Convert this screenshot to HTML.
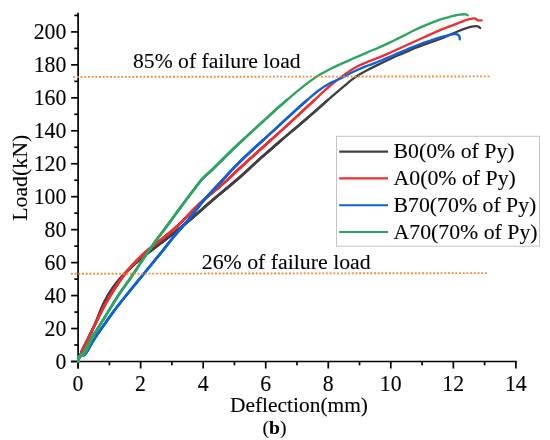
<!DOCTYPE html>
<html><head><meta charset="utf-8"><title>Load-deflection curves</title><style>
html,body{margin:0;padding:0;background:#fff;}
svg{display:block;}
text{font-family:"Liberation Serif","Times New Roman",serif;fill:#000;stroke:#000;stroke-width:0.1px;}
</style></head><body>
<svg width="550" height="440" viewBox="0 0 550 440">
<rect width="550" height="440" fill="#fff"/>
<line x1="78.10" y1="12.8" x2="78.10" y2="368.5" stroke="#000" stroke-width="1.7"/>
<line x1="71" y1="361.5" x2="516.73" y2="361.5" stroke="#000" stroke-width="1.7"/>
<line x1="71.10" y1="361.50" x2="78.10" y2="361.50" stroke="#000" stroke-width="1.7"/>
<text transform="translate(66.4 368.50) scale(1 1.09)" font-size="21.8" text-anchor="end">0</text>
<line x1="74.30" y1="345.02" x2="78.10" y2="345.02" stroke="#000" stroke-width="1.7"/>
<line x1="71.10" y1="328.54" x2="78.10" y2="328.54" stroke="#000" stroke-width="1.7"/>
<text transform="translate(66.4 335.54) scale(1 1.09)" font-size="21.8" text-anchor="end">20</text>
<line x1="74.30" y1="312.06" x2="78.10" y2="312.06" stroke="#000" stroke-width="1.7"/>
<line x1="71.10" y1="295.58" x2="78.10" y2="295.58" stroke="#000" stroke-width="1.7"/>
<text transform="translate(66.4 302.58) scale(1 1.09)" font-size="21.8" text-anchor="end">40</text>
<line x1="74.30" y1="279.10" x2="78.10" y2="279.10" stroke="#000" stroke-width="1.7"/>
<line x1="71.10" y1="262.62" x2="78.10" y2="262.62" stroke="#000" stroke-width="1.7"/>
<text transform="translate(66.4 269.62) scale(1 1.09)" font-size="21.8" text-anchor="end">60</text>
<line x1="74.30" y1="246.14" x2="78.10" y2="246.14" stroke="#000" stroke-width="1.7"/>
<line x1="71.10" y1="229.66" x2="78.10" y2="229.66" stroke="#000" stroke-width="1.7"/>
<text transform="translate(66.4 236.66) scale(1 1.09)" font-size="21.8" text-anchor="end">80</text>
<line x1="74.30" y1="213.18" x2="78.10" y2="213.18" stroke="#000" stroke-width="1.7"/>
<line x1="71.10" y1="196.70" x2="78.10" y2="196.70" stroke="#000" stroke-width="1.7"/>
<text transform="translate(66.4 203.70) scale(1 1.09)" font-size="21.8" text-anchor="end">100</text>
<line x1="74.30" y1="180.22" x2="78.10" y2="180.22" stroke="#000" stroke-width="1.7"/>
<line x1="71.10" y1="163.74" x2="78.10" y2="163.74" stroke="#000" stroke-width="1.7"/>
<text transform="translate(66.4 170.74) scale(1 1.09)" font-size="21.8" text-anchor="end">120</text>
<line x1="74.30" y1="147.26" x2="78.10" y2="147.26" stroke="#000" stroke-width="1.7"/>
<line x1="71.10" y1="130.78" x2="78.10" y2="130.78" stroke="#000" stroke-width="1.7"/>
<text transform="translate(66.4 137.78) scale(1 1.09)" font-size="21.8" text-anchor="end">140</text>
<line x1="74.30" y1="114.30" x2="78.10" y2="114.30" stroke="#000" stroke-width="1.7"/>
<line x1="71.10" y1="97.82" x2="78.10" y2="97.82" stroke="#000" stroke-width="1.7"/>
<text transform="translate(66.4 104.82) scale(1 1.09)" font-size="21.8" text-anchor="end">160</text>
<line x1="74.30" y1="81.34" x2="78.10" y2="81.34" stroke="#000" stroke-width="1.7"/>
<line x1="71.10" y1="64.86" x2="78.10" y2="64.86" stroke="#000" stroke-width="1.7"/>
<text transform="translate(66.4 71.86) scale(1 1.09)" font-size="21.8" text-anchor="end">180</text>
<line x1="74.30" y1="48.38" x2="78.10" y2="48.38" stroke="#000" stroke-width="1.7"/>
<line x1="71.10" y1="31.90" x2="78.10" y2="31.90" stroke="#000" stroke-width="1.7"/>
<text transform="translate(66.4 38.90) scale(1 1.09)" font-size="21.8" text-anchor="end">200</text>
<line x1="74.30" y1="15.42" x2="78.10" y2="15.42" stroke="#000" stroke-width="1.7"/>
<line x1="78.10" y1="361.5" x2="78.10" y2="368.50" stroke="#000" stroke-width="1.7"/>
<text transform="translate(78.00 390.6) scale(1 1.09)" font-size="21.8" text-anchor="middle">0</text>
<line x1="109.37" y1="361.5" x2="109.37" y2="365.30" stroke="#000" stroke-width="1.7"/>
<line x1="140.64" y1="361.5" x2="140.64" y2="368.50" stroke="#000" stroke-width="1.7"/>
<text transform="translate(140.54 390.6) scale(1 1.09)" font-size="21.8" text-anchor="middle">2</text>
<line x1="171.91" y1="361.5" x2="171.91" y2="365.30" stroke="#000" stroke-width="1.7"/>
<line x1="203.18" y1="361.5" x2="203.18" y2="368.50" stroke="#000" stroke-width="1.7"/>
<text transform="translate(203.08 390.6) scale(1 1.09)" font-size="21.8" text-anchor="middle">4</text>
<line x1="234.45" y1="361.5" x2="234.45" y2="365.30" stroke="#000" stroke-width="1.7"/>
<line x1="265.72" y1="361.5" x2="265.72" y2="368.50" stroke="#000" stroke-width="1.7"/>
<text transform="translate(265.62 390.6) scale(1 1.09)" font-size="21.8" text-anchor="middle">6</text>
<line x1="296.99" y1="361.5" x2="296.99" y2="365.30" stroke="#000" stroke-width="1.7"/>
<line x1="328.26" y1="361.5" x2="328.26" y2="368.50" stroke="#000" stroke-width="1.7"/>
<text transform="translate(328.16 390.6) scale(1 1.09)" font-size="21.8" text-anchor="middle">8</text>
<line x1="359.53" y1="361.5" x2="359.53" y2="365.30" stroke="#000" stroke-width="1.7"/>
<line x1="390.80" y1="361.5" x2="390.80" y2="368.50" stroke="#000" stroke-width="1.7"/>
<text transform="translate(390.70 390.6) scale(1 1.09)" font-size="21.8" text-anchor="middle">10</text>
<line x1="422.07" y1="361.5" x2="422.07" y2="365.30" stroke="#000" stroke-width="1.7"/>
<line x1="453.34" y1="361.5" x2="453.34" y2="368.50" stroke="#000" stroke-width="1.7"/>
<text transform="translate(453.24 390.6) scale(1 1.09)" font-size="21.8" text-anchor="middle">12</text>
<line x1="484.61" y1="361.5" x2="484.61" y2="365.30" stroke="#000" stroke-width="1.7"/>
<line x1="515.88" y1="361.5" x2="515.88" y2="368.50" stroke="#000" stroke-width="1.7"/>
<text transform="translate(515.78 390.6) scale(1 1.09)" font-size="21.8" text-anchor="middle">14</text>
<path d="M78.40,361.50 C78.52,360.83 78.70,358.75 79.10,357.50 C79.50,356.25 80.27,355.25 80.80,354.00 C81.33,352.75 81.20,352.33 82.30,350.00 C83.40,347.67 85.73,343.33 87.40,340.00 C89.07,336.67 90.73,333.33 92.30,330.00 C93.87,326.67 95.42,323.33 96.84,320.00 C98.26,316.67 99.38,313.33 100.82,310.00 C102.26,306.67 103.70,303.33 105.46,300.00 C107.22,296.67 109.15,293.33 111.38,290.00 C113.61,286.67 116.06,283.33 118.86,280.00 C121.66,276.67 124.82,273.33 128.20,270.00 C131.58,266.67 135.19,263.33 139.12,260.00 C143.05,256.67 147.50,253.33 151.80,250.00 C156.10,246.67 160.61,243.33 164.92,240.00 C169.23,236.67 173.53,233.33 177.68,230.00 C181.83,226.67 185.90,223.33 189.84,220.00 C193.78,216.67 197.52,213.33 201.34,210.00 C205.16,206.67 208.84,203.33 212.74,200.00 C216.64,196.67 220.76,193.33 224.74,190.00 C228.72,186.67 232.79,183.33 236.64,180.00 C240.49,176.67 244.16,173.33 247.82,170.00 C251.48,166.67 254.92,163.33 258.62,160.00 C262.32,156.67 266.23,153.33 270.04,150.00 C273.85,146.67 277.62,143.33 281.50,140.00 C285.38,136.67 289.39,133.33 293.32,130.00 C297.25,126.67 301.21,123.33 305.08,120.00 C308.95,116.67 312.78,113.34 316.54,110.03 C320.30,106.71 324.08,103.26 327.64,100.14 C331.20,97.02 335.01,93.77 337.90,91.30 C340.79,88.83 342.78,87.19 345.00,85.34 C347.22,83.48 348.98,81.89 351.24,80.18 C353.50,78.47 355.78,76.83 358.58,75.08 C361.38,73.34 364.57,71.54 368.02,69.72 C371.47,67.90 375.77,65.85 379.28,64.14 C382.79,62.42 385.95,60.92 389.10,59.44 C392.25,57.96 395.21,56.61 398.20,55.28 C401.19,53.95 404.17,52.68 407.02,51.46 C409.87,50.24 412.43,49.08 415.28,47.94 C418.13,46.80 421.11,45.71 424.10,44.62 C427.09,43.53 430.31,42.43 433.20,41.40 C436.09,40.37 439.12,39.31 441.42,38.42 C443.72,37.53 445.24,36.84 447.02,36.06 C448.80,35.28 450.17,34.56 452.12,33.72 C454.07,32.88 456.21,31.97 458.74,31.00 C461.27,30.03 465.09,28.63 467.30,27.90 C469.51,27.17 470.63,26.90 472.00,26.60 C473.37,26.30 474.58,26.15 475.50,26.10 C476.42,26.05 476.92,26.17 477.50,26.30 C478.08,26.43 478.55,26.62 479.00,26.90 C479.45,27.18 480.00,27.82 480.20,28.00" fill="none" stroke="#404040" stroke-width="2.35" stroke-linejoin="round" stroke-linecap="round"/>
<path d="M78.40,361.50 C78.52,360.83 78.70,358.75 79.10,357.50 C79.50,356.25 80.27,355.25 80.80,354.00 C81.33,352.75 81.20,352.33 82.30,350.00 C83.40,347.67 85.73,343.33 87.40,340.00 C89.07,336.67 90.73,333.33 92.30,330.00 C93.87,326.67 95.42,323.33 96.84,320.00 C98.26,316.67 99.38,313.33 100.82,310.00 C102.26,306.67 103.70,303.33 105.46,300.00 C107.22,296.67 109.15,293.33 111.38,290.00 C113.61,286.67 116.06,283.33 118.86,280.00 C121.66,276.67 124.82,273.33 128.20,270.00 C131.58,266.67 135.19,263.33 139.12,260.00 C143.05,256.67 147.50,253.33 151.80,250.00 C156.10,246.67 160.61,243.33 164.92,240.00 C169.23,236.67 173.53,233.33 177.68,230.00 C181.83,226.67 185.90,223.33 189.84,220.00 C193.78,216.67 197.52,213.33 201.34,210.00 C205.16,206.67 208.84,203.33 212.74,200.00 C216.64,196.67 220.76,193.33 224.74,190.00 C228.72,186.67 232.79,183.33 236.64,180.00 C240.49,176.67 244.16,173.33 247.82,170.00 C251.48,166.67 254.92,163.33 258.62,160.00 C262.32,156.67 266.23,153.33 270.04,150.00 C273.85,146.67 279.59,141.67 281.50,140.00" fill="none" stroke="#404040" stroke-width="2.6" stroke-linejoin="round" stroke-linecap="round"/>
<path d="M78.40,361.50 C78.52,360.83 78.70,358.75 79.10,357.50 C79.50,356.25 80.27,355.25 80.80,354.00 C81.33,352.75 81.20,352.33 82.30,350.00 C83.40,347.67 85.73,343.33 87.40,340.00 C89.07,336.67 90.73,333.33 92.30,330.00 C93.87,326.67 95.42,323.33 96.84,320.00 C98.26,316.67 99.38,313.33 100.82,310.00 C102.26,306.67 103.70,303.33 105.46,300.00 C107.22,296.67 109.15,293.33 111.38,290.00 C113.61,286.67 116.06,283.33 118.86,280.00 C121.66,276.67 124.82,273.33 128.20,270.00 C131.58,266.67 135.19,263.33 139.12,260.00 C143.05,256.67 147.50,253.33 151.80,250.00 C156.10,246.67 160.61,243.33 164.92,240.00 C169.23,236.67 173.53,233.33 177.68,230.00 C181.83,226.67 185.90,223.33 189.84,220.00 C193.78,216.67 197.52,213.33 201.34,210.00 C205.16,206.67 208.84,203.33 212.74,200.00 C216.64,196.67 220.76,193.33 224.74,190.00 C228.72,186.67 232.79,183.33 236.64,180.00 C240.49,176.67 244.16,173.33 247.82,170.00 C251.48,166.67 254.92,163.33 258.62,160.00 C262.32,156.67 266.23,153.33 270.04,150.00 C273.85,146.67 277.62,143.33 281.50,140.00 C285.38,136.67 289.39,133.33 293.32,130.00 C297.25,126.67 301.21,123.33 305.08,120.00 C308.95,116.67 312.78,113.34 316.54,110.03 C320.30,106.71 325.79,101.79 327.64,100.14" fill="none" stroke="#404040" stroke-width="2.48" stroke-linejoin="round" stroke-linecap="round"/>
<path d="M78.40,361.50 C78.53,360.83 78.77,358.75 79.20,357.50 C79.63,356.25 80.43,355.25 81.00,354.00 C81.57,352.75 81.50,352.33 82.60,350.00 C83.70,347.67 85.97,343.33 87.60,340.00 C89.23,336.67 90.79,333.33 92.40,330.00 C94.01,326.67 95.64,323.33 97.28,320.00 C98.92,316.67 100.50,313.33 102.24,310.00 C103.98,306.67 105.81,303.33 107.74,300.00 C109.67,296.67 111.71,293.33 113.84,290.00 C115.97,286.67 118.10,283.33 120.50,280.00 C122.90,276.67 125.48,273.33 128.26,270.00 C131.04,266.67 133.91,263.33 137.20,260.00 C140.49,256.67 144.11,253.33 148.02,250.00 C151.93,246.67 156.49,243.33 160.64,240.00 C164.79,236.67 169.11,233.33 172.94,230.00 C176.77,226.67 180.26,223.33 183.62,220.00 C186.98,216.67 189.76,213.33 193.08,210.00 C196.40,206.67 199.79,203.33 203.56,200.00 C207.33,196.67 211.77,193.33 215.72,190.00 C219.67,186.67 223.60,183.33 227.28,180.00 C230.96,176.67 234.25,173.33 237.82,170.00 C241.39,166.67 245.04,163.33 248.70,160.00 C252.36,156.67 256.10,153.33 259.80,150.00 C263.50,146.67 267.20,143.33 270.90,140.00 C274.60,136.67 278.32,133.33 282.00,130.00 C285.68,126.67 289.36,123.33 292.98,120.00 C296.60,116.67 300.13,113.33 303.72,110.00 C307.31,106.67 311.07,103.23 314.54,100.01 C318.01,96.79 321.50,93.42 324.54,90.67 C327.58,87.93 330.15,85.70 332.80,83.53 C335.45,81.36 337.70,79.70 340.42,77.67 C343.14,75.65 346.14,73.31 349.10,71.37 C352.06,69.43 355.05,67.66 358.20,66.05 C361.35,64.44 364.51,63.16 368.02,61.70 C371.53,60.24 375.77,58.74 379.28,57.31 C382.79,55.87 385.95,54.48 389.10,53.10 C392.25,51.72 395.21,50.35 398.20,49.00 C401.19,47.65 404.17,46.30 407.02,45.00 C409.87,43.70 412.43,42.50 415.28,41.20 C418.13,39.90 421.11,38.55 424.10,37.20 C427.09,35.85 430.24,34.41 433.20,33.10 C436.16,31.79 439.22,30.43 441.84,29.36 C444.46,28.29 446.72,27.53 448.92,26.70 C451.12,25.87 453.00,25.16 455.02,24.38 C457.04,23.60 459.01,22.80 461.06,22.02 C463.11,21.24 465.48,20.27 467.30,19.70 C469.12,19.13 470.75,18.80 472.00,18.60 C473.25,18.40 474.07,18.40 474.80,18.50 C475.53,18.60 475.93,18.90 476.40,19.20 C476.87,19.50 476.73,20.12 477.60,20.30 C478.47,20.48 480.93,20.30 481.60,20.30" fill="none" stroke="#ef2e30" stroke-width="2.35" stroke-linejoin="round" stroke-linecap="round"/>
<path d="M78.40,361.50 C78.53,360.83 78.77,358.75 79.20,357.50 C79.63,356.25 80.43,355.25 81.00,354.00 C81.57,352.75 81.50,352.33 82.60,350.00 C83.70,347.67 85.97,343.33 87.60,340.00 C89.23,336.67 90.79,333.33 92.40,330.00 C94.01,326.67 95.64,323.33 97.28,320.00 C98.92,316.67 100.50,313.33 102.24,310.00 C103.98,306.67 105.81,303.33 107.74,300.00 C109.67,296.67 111.71,293.33 113.84,290.00 C115.97,286.67 118.10,283.33 120.50,280.00 C122.90,276.67 125.48,273.33 128.26,270.00 C131.04,266.67 133.91,263.33 137.20,260.00 C140.49,256.67 144.11,253.33 148.02,250.00 C151.93,246.67 156.49,243.33 160.64,240.00 C164.79,236.67 169.11,233.33 172.94,230.00 C176.77,226.67 180.26,223.33 183.62,220.00 C186.98,216.67 189.76,213.33 193.08,210.00 C196.40,206.67 199.79,203.33 203.56,200.00 C207.33,196.67 211.77,193.33 215.72,190.00 C219.67,186.67 223.60,183.33 227.28,180.00 C230.96,176.67 234.25,173.33 237.82,170.00 C241.39,166.67 245.04,163.33 248.70,160.00 C252.36,156.67 256.10,153.33 259.80,150.00 C263.50,146.67 269.05,141.67 270.90,140.00" fill="none" stroke="#ef2e30" stroke-width="2.6" stroke-linejoin="round" stroke-linecap="round"/>
<path d="M78.40,361.50 C78.53,360.83 78.77,358.75 79.20,357.50 C79.63,356.25 80.43,355.25 81.00,354.00 C81.57,352.75 81.50,352.33 82.60,350.00 C83.70,347.67 85.97,343.33 87.60,340.00 C89.23,336.67 90.79,333.33 92.40,330.00 C94.01,326.67 95.64,323.33 97.28,320.00 C98.92,316.67 100.50,313.33 102.24,310.00 C103.98,306.67 105.81,303.33 107.74,300.00 C109.67,296.67 111.71,293.33 113.84,290.00 C115.97,286.67 118.10,283.33 120.50,280.00 C122.90,276.67 125.48,273.33 128.26,270.00 C131.04,266.67 133.91,263.33 137.20,260.00 C140.49,256.67 144.11,253.33 148.02,250.00 C151.93,246.67 156.49,243.33 160.64,240.00 C164.79,236.67 169.11,233.33 172.94,230.00 C176.77,226.67 180.26,223.33 183.62,220.00 C186.98,216.67 189.76,213.33 193.08,210.00 C196.40,206.67 199.79,203.33 203.56,200.00 C207.33,196.67 211.77,193.33 215.72,190.00 C219.67,186.67 223.60,183.33 227.28,180.00 C230.96,176.67 234.25,173.33 237.82,170.00 C241.39,166.67 245.04,163.33 248.70,160.00 C252.36,156.67 256.10,153.33 259.80,150.00 C263.50,146.67 267.20,143.33 270.90,140.00 C274.60,136.67 278.32,133.33 282.00,130.00 C285.68,126.67 289.36,123.33 292.98,120.00 C296.60,116.67 300.13,113.33 303.72,110.00 C307.31,106.67 312.74,101.68 314.54,100.01" fill="none" stroke="#ef2e30" stroke-width="2.48" stroke-linejoin="round" stroke-linecap="round"/>
<path d="M78.40,361.50 C78.43,360.92 78.45,358.87 78.60,358.00 C78.75,357.13 78.73,356.68 79.30,356.30 C79.87,355.92 81.08,355.98 82.00,355.70 C82.92,355.42 83.80,355.55 84.80,354.60 C85.80,353.65 86.52,352.43 88.00,350.00 C89.48,347.57 91.59,343.33 93.66,340.00 C95.73,336.67 98.10,333.33 100.40,330.00 C102.70,326.67 105.10,323.33 107.48,320.00 C109.86,316.67 112.20,313.33 114.70,310.00 C117.20,306.67 119.86,303.33 122.50,300.00 C125.14,296.67 127.84,293.33 130.54,290.00 C133.24,286.67 135.99,283.33 138.72,280.00 C141.45,276.67 144.21,273.33 146.94,270.00 C149.67,266.67 152.38,263.33 155.10,260.00 C157.82,256.67 160.59,253.33 163.26,250.00 C165.93,246.67 168.38,243.33 171.10,240.00 C173.82,236.67 176.76,233.33 179.60,230.00 C182.44,226.67 185.42,223.33 188.16,220.00 C190.90,216.67 193.38,213.33 196.04,210.00 C198.70,206.67 201.26,203.33 204.12,200.00 C206.98,196.67 210.14,193.33 213.22,190.00 C216.30,186.67 219.48,183.33 222.58,180.00 C225.68,176.67 228.63,173.33 231.82,170.00 C235.01,166.67 238.31,163.33 241.72,160.00 C245.13,156.67 248.70,153.33 252.30,150.00 C255.90,146.67 259.64,143.33 263.30,140.00 C266.96,136.67 270.66,133.33 274.28,130.00 C277.90,126.67 281.40,123.33 285.02,120.00 C288.64,116.67 292.30,113.33 296.00,110.00 C299.70,106.67 303.50,103.21 307.22,100.00 C310.94,96.79 314.74,93.40 318.30,90.74 C321.86,88.08 325.04,86.00 328.56,84.04 C332.08,82.07 336.00,80.62 339.42,78.94 C342.84,77.26 345.97,75.52 349.10,73.95 C352.23,72.37 355.05,70.89 358.20,69.49 C361.35,68.08 364.51,66.89 368.02,65.52 C371.53,64.15 375.77,62.64 379.28,61.25 C382.79,59.85 385.95,58.50 389.10,57.16 C392.25,55.82 395.21,54.46 398.20,53.18 C401.19,51.90 404.17,50.66 407.02,49.46 C409.87,48.26 412.43,47.14 415.28,46.00 C418.13,44.86 421.11,43.72 424.10,42.64 C427.09,41.56 430.24,40.45 433.20,39.50 C436.16,38.55 439.19,37.65 441.84,36.92 C444.49,36.19 446.99,35.55 449.10,35.10 C451.21,34.65 453.13,34.32 454.50,34.20 C455.87,34.08 456.52,34.10 457.30,34.40 C458.08,34.70 458.80,35.43 459.20,36.00 C459.60,36.57 459.60,37.23 459.70,37.80 C459.80,38.37 459.78,39.13 459.80,39.40" fill="none" stroke="#0c62da" stroke-width="2.35" stroke-linejoin="round" stroke-linecap="round"/>
<path d="M78.40,361.50 C78.43,360.92 78.45,358.87 78.60,358.00 C78.75,357.13 78.73,356.68 79.30,356.30 C79.87,355.92 81.08,355.98 82.00,355.70 C82.92,355.42 83.80,355.55 84.80,354.60 C85.80,353.65 86.52,352.43 88.00,350.00 C89.48,347.57 91.59,343.33 93.66,340.00 C95.73,336.67 98.10,333.33 100.40,330.00 C102.70,326.67 105.10,323.33 107.48,320.00 C109.86,316.67 112.20,313.33 114.70,310.00 C117.20,306.67 119.86,303.33 122.50,300.00 C125.14,296.67 127.84,293.33 130.54,290.00 C133.24,286.67 135.99,283.33 138.72,280.00 C141.45,276.67 144.21,273.33 146.94,270.00 C149.67,266.67 152.38,263.33 155.10,260.00 C157.82,256.67 160.59,253.33 163.26,250.00 C165.93,246.67 168.38,243.33 171.10,240.00 C173.82,236.67 176.76,233.33 179.60,230.00 C182.44,226.67 185.42,223.33 188.16,220.00 C190.90,216.67 193.38,213.33 196.04,210.00 C198.70,206.67 201.26,203.33 204.12,200.00 C206.98,196.67 210.14,193.33 213.22,190.00 C216.30,186.67 219.48,183.33 222.58,180.00 C225.68,176.67 228.63,173.33 231.82,170.00 C235.01,166.67 238.31,163.33 241.72,160.00 C245.13,156.67 248.70,153.33 252.30,150.00 C255.90,146.67 261.47,141.67 263.30,140.00" fill="none" stroke="#0c62da" stroke-width="2.6" stroke-linejoin="round" stroke-linecap="round"/>
<path d="M78.40,361.50 C78.43,360.92 78.45,358.87 78.60,358.00 C78.75,357.13 78.73,356.68 79.30,356.30 C79.87,355.92 81.08,355.98 82.00,355.70 C82.92,355.42 83.80,355.55 84.80,354.60 C85.80,353.65 86.52,352.43 88.00,350.00 C89.48,347.57 91.59,343.33 93.66,340.00 C95.73,336.67 98.10,333.33 100.40,330.00 C102.70,326.67 105.10,323.33 107.48,320.00 C109.86,316.67 112.20,313.33 114.70,310.00 C117.20,306.67 119.86,303.33 122.50,300.00 C125.14,296.67 127.84,293.33 130.54,290.00 C133.24,286.67 135.99,283.33 138.72,280.00 C141.45,276.67 144.21,273.33 146.94,270.00 C149.67,266.67 152.38,263.33 155.10,260.00 C157.82,256.67 160.59,253.33 163.26,250.00 C165.93,246.67 168.38,243.33 171.10,240.00 C173.82,236.67 176.76,233.33 179.60,230.00 C182.44,226.67 185.42,223.33 188.16,220.00 C190.90,216.67 193.38,213.33 196.04,210.00 C198.70,206.67 201.26,203.33 204.12,200.00 C206.98,196.67 210.14,193.33 213.22,190.00 C216.30,186.67 219.48,183.33 222.58,180.00 C225.68,176.67 228.63,173.33 231.82,170.00 C235.01,166.67 238.31,163.33 241.72,160.00 C245.13,156.67 248.70,153.33 252.30,150.00 C255.90,146.67 259.64,143.33 263.30,140.00 C266.96,136.67 270.66,133.33 274.28,130.00 C277.90,126.67 281.40,123.33 285.02,120.00 C288.64,116.67 292.30,113.33 296.00,110.00 C299.70,106.67 305.35,101.67 307.22,100.00" fill="none" stroke="#0c62da" stroke-width="2.48" stroke-linejoin="round" stroke-linecap="round"/>
<path d="M78.40,361.50 C78.43,360.92 78.45,358.87 78.60,358.00 C78.75,357.13 78.82,356.70 79.30,356.30 C79.78,355.90 80.78,355.82 81.50,355.60 C82.22,355.38 83.03,355.43 83.60,355.00 C84.17,354.57 84.35,354.07 84.90,353.00 C85.45,351.93 85.94,350.77 86.92,348.60 C87.90,346.43 89.15,343.10 90.80,340.00 C92.45,336.90 94.75,333.33 96.80,330.00 C98.85,326.67 101.01,323.33 103.08,320.00 C105.15,316.67 107.15,313.33 109.20,310.00 C111.25,306.67 113.25,303.33 115.38,300.00 C117.51,296.67 119.70,293.33 122.00,290.00 C124.30,286.67 126.83,283.33 129.16,280.00 C131.49,276.67 133.75,273.33 135.98,270.00 C138.21,266.67 140.28,263.33 142.52,260.00 C144.76,256.67 147.11,253.33 149.42,250.00 C151.73,246.67 153.93,243.33 156.36,240.00 C158.79,236.67 161.48,233.33 163.98,230.00 C166.48,226.67 168.90,223.33 171.34,220.00 C173.78,216.67 176.17,213.33 178.62,210.00 C181.07,206.67 183.50,203.37 186.04,200.00 C188.58,196.63 191.11,193.29 193.84,189.76 C196.57,186.23 199.34,182.13 202.40,178.80 C205.46,175.47 208.93,172.89 212.20,169.76 C215.47,166.63 218.71,163.29 222.04,160.00 C225.37,156.71 228.70,153.33 232.16,150.00 C235.62,146.67 239.22,143.33 242.80,140.00 C246.38,136.67 250.03,133.33 253.66,130.00 C257.29,126.67 260.96,123.33 264.60,120.00 C268.24,116.67 271.78,113.33 275.50,110.00 C279.22,106.67 283.11,103.27 286.92,100.00 C290.73,96.73 294.65,93.38 298.36,90.36 C302.07,87.34 305.59,84.53 309.18,81.90 C312.77,79.27 316.40,76.75 319.92,74.60 C323.44,72.46 326.97,70.72 330.30,69.02 C333.63,67.32 336.79,65.84 339.92,64.39 C343.05,62.94 346.05,61.66 349.10,60.32 C352.15,58.98 355.05,57.71 358.20,56.35 C361.35,54.98 364.51,53.61 368.02,52.12 C371.53,50.63 375.77,48.92 379.28,47.39 C382.79,45.86 385.95,44.42 389.10,42.92 C392.25,41.42 395.21,39.91 398.20,38.42 C401.19,36.93 404.17,35.42 407.02,33.98 C409.87,32.54 412.43,31.16 415.28,29.80 C418.13,28.44 421.11,27.07 424.10,25.80 C427.09,24.53 430.17,23.33 433.20,22.18 C436.23,21.03 439.65,19.75 442.30,18.90 C444.95,18.05 446.98,17.67 449.10,17.10 C451.22,16.53 453.18,15.92 455.00,15.50 C456.82,15.08 458.25,14.80 460.00,14.60 C461.75,14.40 464.22,14.18 465.50,14.30 C466.78,14.42 467.33,15.13 467.70,15.30" fill="none" stroke="#2aa660" stroke-width="2.35" stroke-linejoin="round" stroke-linecap="round"/>
<path d="M78.40,361.50 C78.43,360.92 78.45,358.87 78.60,358.00 C78.75,357.13 78.82,356.70 79.30,356.30 C79.78,355.90 80.78,355.82 81.50,355.60 C82.22,355.38 83.03,355.43 83.60,355.00 C84.17,354.57 84.35,354.07 84.90,353.00 C85.45,351.93 85.94,350.77 86.92,348.60 C87.90,346.43 89.15,343.10 90.80,340.00 C92.45,336.90 94.75,333.33 96.80,330.00 C98.85,326.67 101.01,323.33 103.08,320.00 C105.15,316.67 107.15,313.33 109.20,310.00 C111.25,306.67 113.25,303.33 115.38,300.00 C117.51,296.67 119.70,293.33 122.00,290.00 C124.30,286.67 126.83,283.33 129.16,280.00 C131.49,276.67 133.75,273.33 135.98,270.00 C138.21,266.67 140.28,263.33 142.52,260.00 C144.76,256.67 147.11,253.33 149.42,250.00 C151.73,246.67 153.93,243.33 156.36,240.00 C158.79,236.67 161.48,233.33 163.98,230.00 C166.48,226.67 168.90,223.33 171.34,220.00 C173.78,216.67 176.17,213.33 178.62,210.00 C181.07,206.67 183.50,203.37 186.04,200.00 C188.58,196.63 191.11,193.29 193.84,189.76 C196.57,186.23 199.34,182.13 202.40,178.80 C205.46,175.47 208.93,172.89 212.20,169.76 C215.47,166.63 218.71,163.29 222.04,160.00 C225.37,156.71 228.70,153.33 232.16,150.00 C235.62,146.67 241.03,141.67 242.80,140.00" fill="none" stroke="#2aa660" stroke-width="2.6" stroke-linejoin="round" stroke-linecap="round"/>
<path d="M78.40,361.50 C78.43,360.92 78.45,358.87 78.60,358.00 C78.75,357.13 78.82,356.70 79.30,356.30 C79.78,355.90 80.78,355.82 81.50,355.60 C82.22,355.38 83.03,355.43 83.60,355.00 C84.17,354.57 84.35,354.07 84.90,353.00 C85.45,351.93 85.94,350.77 86.92,348.60 C87.90,346.43 89.15,343.10 90.80,340.00 C92.45,336.90 94.75,333.33 96.80,330.00 C98.85,326.67 101.01,323.33 103.08,320.00 C105.15,316.67 107.15,313.33 109.20,310.00 C111.25,306.67 113.25,303.33 115.38,300.00 C117.51,296.67 119.70,293.33 122.00,290.00 C124.30,286.67 126.83,283.33 129.16,280.00 C131.49,276.67 133.75,273.33 135.98,270.00 C138.21,266.67 140.28,263.33 142.52,260.00 C144.76,256.67 147.11,253.33 149.42,250.00 C151.73,246.67 153.93,243.33 156.36,240.00 C158.79,236.67 161.48,233.33 163.98,230.00 C166.48,226.67 168.90,223.33 171.34,220.00 C173.78,216.67 176.17,213.33 178.62,210.00 C181.07,206.67 183.50,203.37 186.04,200.00 C188.58,196.63 191.11,193.29 193.84,189.76 C196.57,186.23 199.34,182.13 202.40,178.80 C205.46,175.47 208.93,172.89 212.20,169.76 C215.47,166.63 218.71,163.29 222.04,160.00 C225.37,156.71 228.70,153.33 232.16,150.00 C235.62,146.67 239.22,143.33 242.80,140.00 C246.38,136.67 250.03,133.33 253.66,130.00 C257.29,126.67 260.96,123.33 264.60,120.00 C268.24,116.67 271.78,113.33 275.50,110.00 C279.22,106.67 285.02,101.67 286.92,100.00" fill="none" stroke="#2aa660" stroke-width="2.48" stroke-linejoin="round" stroke-linecap="round"/>
<path d="M78.8,357.2 L81,355.4 L83.6,353.2 L86.4,349 L89.1,343.6 L91.8,338.4 L94.5,333.5" fill="none" stroke="#2aa660" stroke-width="3.6" stroke-linejoin="round" stroke-linecap="round"/>
<line x1="73.10" y1="76.9" x2="489.50" y2="76.4" stroke="#f39040" stroke-width="1.9" stroke-dasharray="2.0 1.7000"/>
<line x1="70.90" y1="273.8" x2="486.90" y2="273.1" stroke="#f39040" stroke-width="1.9" stroke-dasharray="2.0 1.6964"/>
<text x="230" y="411.6" font-size="21.8" textLength="138" lengthAdjust="spacingAndGlyphs">Deflection(mm)</text>
<text x="262.5" y="434" font-size="19.6">(<tspan font-weight="bold">b</tspan>)</text>
<text transform="translate(26.8 220.8) rotate(-90)" font-size="21.8">Load(kN)</text>
<text x="133" y="68.2" font-size="21.8" textLength="167.6" lengthAdjust="spacingAndGlyphs">85% of failure load</text>
<text x="201.8" y="268.8" font-size="21.8">26% of failure load</text>
<rect x="336.5" y="136.3" width="203" height="109.9" fill="#fff" stroke="#c4c4c4" stroke-width="1"/>
<line x1="339.2" y1="151.6" x2="388" y2="151.6" stroke="#404040" stroke-width="2.1"/>
<text x="393.5" y="158.4" font-size="21.8">B0(0% of Py)</text>
<line x1="339.2" y1="178.4" x2="388" y2="178.4" stroke="#ef2e30" stroke-width="2.1"/>
<text x="393.5" y="185.2" font-size="21.8">A0(0% of Py)</text>
<line x1="339.2" y1="205.2" x2="388" y2="205.2" stroke="#0c62da" stroke-width="2.1"/>
<text x="393.5" y="212.0" font-size="21.8">B70(70% of Py)</text>
<line x1="339.2" y1="232.0" x2="388" y2="232.0" stroke="#2aa660" stroke-width="2.1"/>
<text x="393.5" y="238.8" font-size="21.8">A70(70% of Py)</text>
</svg></body></html>
